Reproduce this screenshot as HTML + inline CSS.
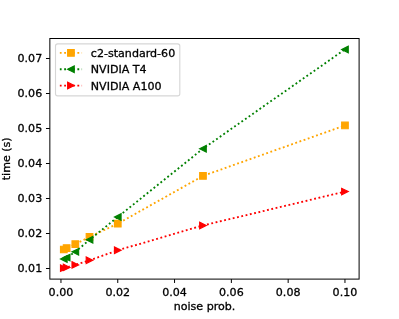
<!DOCTYPE html>
<html><head><meta charset="utf-8"><title>time vs noise prob.</title>
<style>html,body{margin:0;padding:0;background:#fff;}body{width:399px;height:319px;overflow:hidden;}</style>
</head><body>
<svg width="399" height="319" viewBox="0 0 399 319" style="display:block">
<rect width="399" height="319" fill="#fff"/>
<g stroke="#000" stroke-width="1" fill="none">
<line x1="60.96" y1="279.10" x2="60.96" y2="282.98"/>
<line x1="117.76" y1="279.10" x2="117.76" y2="282.98"/>
<line x1="174.56" y1="279.10" x2="174.56" y2="282.98"/>
<line x1="231.36" y1="279.10" x2="231.36" y2="282.98"/>
<line x1="288.16" y1="279.10" x2="288.16" y2="282.98"/>
<line x1="344.96" y1="279.10" x2="344.96" y2="282.98"/>
<line x1="45.97" y1="268.50" x2="49.85" y2="268.50"/>
<line x1="45.97" y1="233.50" x2="49.85" y2="233.50"/>
<line x1="45.97" y1="198.50" x2="49.85" y2="198.50"/>
<line x1="45.97" y1="163.50" x2="49.85" y2="163.50"/>
<line x1="45.97" y1="128.50" x2="49.85" y2="128.50"/>
<line x1="45.97" y1="93.50" x2="49.85" y2="93.50"/>
<line x1="45.97" y1="58.50" x2="49.85" y2="58.50"/>
</g>
<g font-family="'DejaVu Sans', 'Liberation Sans', sans-serif" font-size="11.08px" fill="#000" stroke="#000" stroke-width="0.3">
<text x="60.96" y="296.00" text-anchor="middle">0.00</text>
<text x="117.76" y="296.00" text-anchor="middle">0.02</text>
<text x="174.56" y="296.00" text-anchor="middle">0.04</text>
<text x="231.36" y="296.00" text-anchor="middle">0.06</text>
<text x="288.16" y="296.00" text-anchor="middle">0.08</text>
<text x="344.96" y="296.00" text-anchor="middle">0.10</text>
<text x="42.20" y="272.40" text-anchor="end">0.01</text>
<text x="42.20" y="237.40" text-anchor="end">0.02</text>
<text x="42.20" y="202.40" text-anchor="end">0.03</text>
<text x="42.20" y="167.40" text-anchor="end">0.04</text>
<text x="42.20" y="132.40" text-anchor="end">0.05</text>
<text x="42.20" y="97.40" text-anchor="end">0.06</text>
<text x="42.20" y="62.40" text-anchor="end">0.07</text>
<text x="204.48" y="310.15" text-anchor="middle">noise prob.</text>
<text transform="translate(10.20,158.80) rotate(-90)" text-anchor="middle">time (s)</text>
</g>
<polyline points="63.80,249.50 66.64,248.10 75.31,244.20 89.51,236.90 117.76,223.70 202.96,175.90 344.96,125.45" fill="none" stroke="#ffa500" stroke-width="1.850" stroke-dasharray="1.850 2.557" stroke-dashoffset="0.09" stroke-linejoin="round"/>
<polygon points="60.47,246.18 67.12,246.18 67.12,252.82 60.47,252.82" fill="#ffa500" stroke="#ffa500" stroke-width="1.108" stroke-linejoin="miter"/>
<polygon points="63.31,244.78 69.97,244.78 69.97,251.42 63.31,251.42" fill="#ffa500" stroke="#ffa500" stroke-width="1.108" stroke-linejoin="miter"/>
<polygon points="71.98,240.88 78.64,240.88 78.64,247.52 71.98,247.52" fill="#ffa500" stroke="#ffa500" stroke-width="1.108" stroke-linejoin="miter"/>
<polygon points="86.19,233.58 92.84,233.58 92.84,240.22 86.19,240.22" fill="#ffa500" stroke="#ffa500" stroke-width="1.108" stroke-linejoin="miter"/>
<polygon points="114.44,220.38 121.09,220.38 121.09,227.02 114.44,227.02" fill="#ffa500" stroke="#ffa500" stroke-width="1.108" stroke-linejoin="miter"/>
<polygon points="199.64,172.58 206.28,172.58 206.28,179.22 199.64,179.22" fill="#ffa500" stroke="#ffa500" stroke-width="1.108" stroke-linejoin="miter"/>
<polygon points="341.63,122.12 348.28,122.12 348.28,128.78 341.63,128.78" fill="#ffa500" stroke="#ffa500" stroke-width="1.108" stroke-linejoin="miter"/>
<polyline points="63.80,259.00 66.64,257.60 75.31,251.85 89.51,239.80 117.76,217.00 202.96,148.70 344.96,49.40" fill="none" stroke="#008000" stroke-width="1.850" stroke-dasharray="1.850 2.557" stroke-dashoffset="0.09" stroke-linejoin="round"/>
<polygon points="60.47,259.00 67.12,255.68 67.12,262.32" fill="#008000" stroke="#008000" stroke-width="1.108" stroke-linejoin="miter"/>
<polygon points="63.31,257.60 69.97,254.28 69.97,260.93" fill="#008000" stroke="#008000" stroke-width="1.108" stroke-linejoin="miter"/>
<polygon points="71.98,251.85 78.64,248.53 78.64,255.17" fill="#008000" stroke="#008000" stroke-width="1.108" stroke-linejoin="miter"/>
<polygon points="86.19,239.80 92.84,236.48 92.84,243.12" fill="#008000" stroke="#008000" stroke-width="1.108" stroke-linejoin="miter"/>
<polygon points="114.44,217.00 121.09,213.68 121.09,220.32" fill="#008000" stroke="#008000" stroke-width="1.108" stroke-linejoin="miter"/>
<polygon points="199.64,148.70 206.28,145.38 206.28,152.02" fill="#008000" stroke="#008000" stroke-width="1.108" stroke-linejoin="miter"/>
<polygon points="341.63,49.40 348.28,46.07 348.28,52.73" fill="#008000" stroke="#008000" stroke-width="1.108" stroke-linejoin="miter"/>
<polyline points="63.80,268.15 66.64,267.40 75.31,264.90 89.51,260.30 117.76,250.30 202.96,225.45 344.96,191.60" fill="none" stroke="#ff0000" stroke-width="1.850" stroke-dasharray="1.850 2.557" stroke-dashoffset="0.09" stroke-linejoin="round"/>
<polygon points="67.12,268.15 60.47,264.82 60.47,271.47" fill="#ff0000" stroke="#ff0000" stroke-width="1.108" stroke-linejoin="miter"/>
<polygon points="69.97,267.40 63.31,264.07 63.31,270.72" fill="#ff0000" stroke="#ff0000" stroke-width="1.108" stroke-linejoin="miter"/>
<polygon points="78.64,264.90 71.98,261.57 71.98,268.22" fill="#ff0000" stroke="#ff0000" stroke-width="1.108" stroke-linejoin="miter"/>
<polygon points="92.84,260.30 86.19,256.98 86.19,263.62" fill="#ff0000" stroke="#ff0000" stroke-width="1.108" stroke-linejoin="miter"/>
<polygon points="121.09,250.30 114.44,246.98 114.44,253.62" fill="#ff0000" stroke="#ff0000" stroke-width="1.108" stroke-linejoin="miter"/>
<polygon points="206.28,225.45 199.64,222.12 199.64,228.77" fill="#ff0000" stroke="#ff0000" stroke-width="1.108" stroke-linejoin="miter"/>
<polygon points="348.28,191.60 341.63,188.28 341.63,194.92" fill="#ff0000" stroke="#ff0000" stroke-width="1.108" stroke-linejoin="miter"/>
<rect x="49.85" y="38.50" width="309.25" height="240.60" fill="none" stroke="#000" stroke-width="1" stroke-linejoin="miter"/>
<rect x="55.50" y="43.90" width="124.30" height="51.95" rx="2.2" ry="2.2" fill="#fff" fill-opacity="0.8" stroke="#ccc" stroke-opacity="0.8" stroke-width="1.11"/>
<g font-family="'DejaVu Sans', 'Liberation Sans', sans-serif" font-size="11.08px" fill="#000" stroke="#000" stroke-width="0.3">
<line x1="59.84" y1="52.85" x2="82.04" y2="52.85" stroke="#ffa500" stroke-width="1.850" stroke-dasharray="1.850 2.557" stroke-dashoffset="0.09"/>
<polygon points="67.61,49.52 74.27,49.52 74.27,56.18 67.61,56.18" fill="#ffa500" stroke="#ffa500" stroke-width="1.108" stroke-linejoin="miter"/>
<text x="90.83" y="57.30">c2-standard-60</text>
<line x1="59.84" y1="69.20" x2="82.04" y2="69.20" stroke="#008000" stroke-width="1.850" stroke-dasharray="1.850 2.557" stroke-dashoffset="0.09"/>
<polygon points="67.61,69.20 74.27,65.88 74.27,72.53" fill="#008000" stroke="#008000" stroke-width="1.108" stroke-linejoin="miter"/>
<text x="90.83" y="73.30">NVIDIA T4</text>
<line x1="59.84" y1="85.60" x2="82.04" y2="85.60" stroke="#ff0000" stroke-width="1.850" stroke-dasharray="1.850 2.557" stroke-dashoffset="0.09"/>
<polygon points="74.27,85.60 67.61,82.27 67.61,88.92" fill="#ff0000" stroke="#ff0000" stroke-width="1.108" stroke-linejoin="miter"/>
<text x="90.83" y="89.80">NVIDIA A100</text>
</g>
</svg>
</body></html>
